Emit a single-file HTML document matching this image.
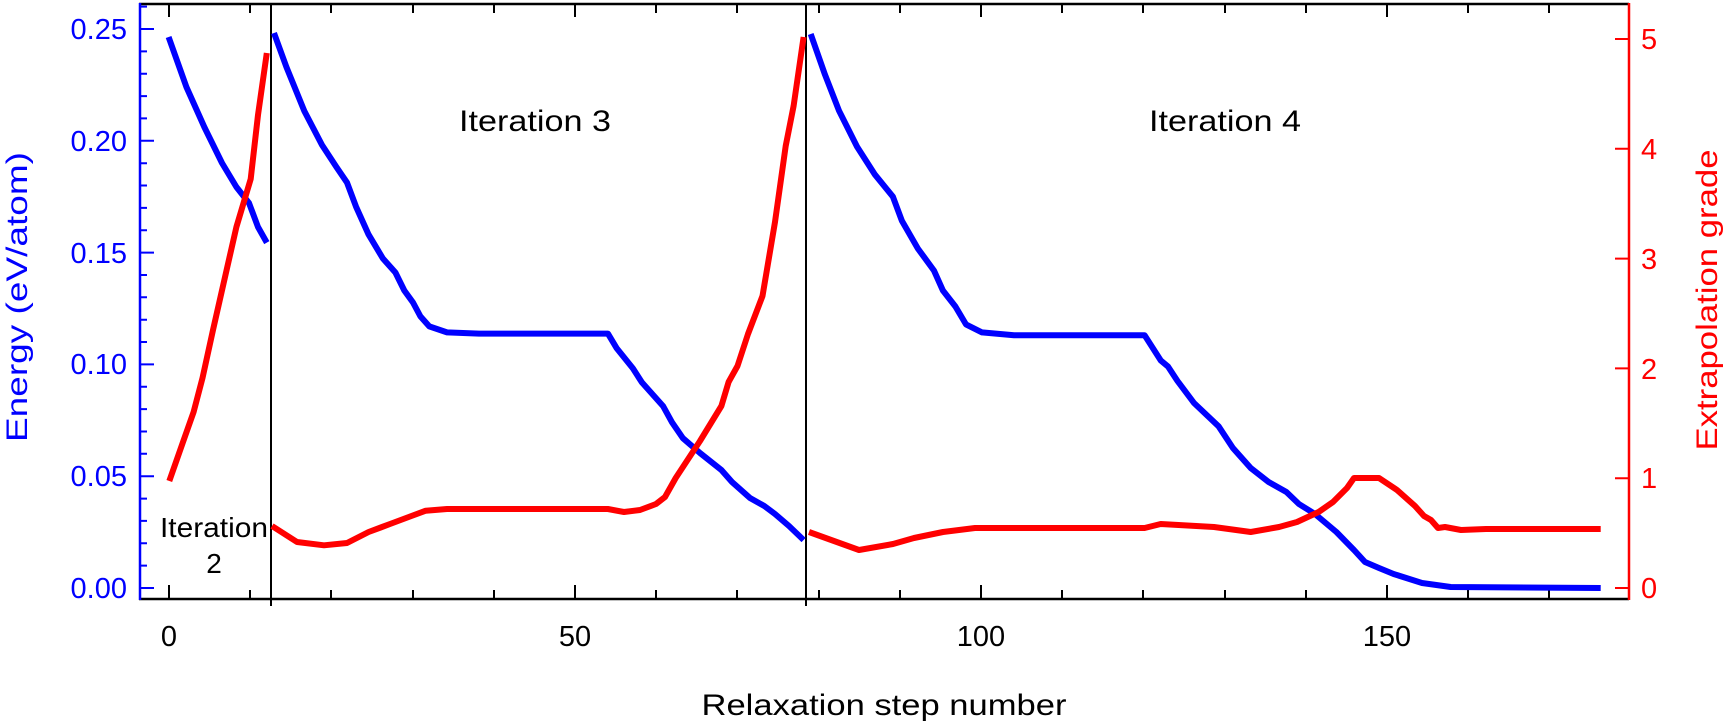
<!DOCTYPE html>
<html><head><meta charset="utf-8"><style>
html,body{margin:0;padding:0;background:#fff;}
svg{display:block;font-family:"Liberation Sans",Arial,sans-serif;}
</style></head><body>
<svg width="1725" height="722" viewBox="0 0 1725 722" xmlns="http://www.w3.org/2000/svg">
<rect width="1725" height="722" fill="#fff"/>
<!-- frame -->
<line x1="139" y1="4" x2="1629" y2="4" stroke="#000" stroke-width="2.5"/>
<line x1="139" y1="599" x2="1629" y2="599" stroke="#000" stroke-width="2.5"/>
<line x1="140" y1="3" x2="140" y2="600" stroke="#0000ff" stroke-width="2.5"/>
<line x1="1629" y1="3" x2="1629" y2="600" stroke="#ff0000" stroke-width="2.5"/>
<!-- iteration separators -->
<line x1="271" y1="4" x2="271" y2="606" stroke="#000" stroke-width="2"/>
<line x1="806" y1="4" x2="806" y2="606" stroke="#000" stroke-width="2"/>
<!-- x ticks -->
<g stroke="#000" stroke-width="2">
<path d="M169,599v-14M575,599v-14M981,599v-14M1387,599v-14
M169,4v13M575,4v13M981,4v13M1387,4v13
M250,599v-9M331,599v-9M413,599v-9M494,599v-9M656,599v-9M737,599v-9M819,599v-9M900,599v-9M1062,599v-9M1143,599v-9M1225,599v-9M1306,599v-9M1468,599v-9M1549,599v-9
M250,4v9M331,4v9M413,4v9M494,4v9M656,4v9M737,4v9M819,4v9M900,4v9M1062,4v9M1143,4v9M1225,4v9M1306,4v9M1468,4v9M1549,4v9"/>
</g>
<!-- left blue ticks -->
<g stroke="#0000ff" stroke-width="2">
<path d="M140,588h14M140,476.2h14M140,364.4h14M140,252.6h14M140,140.8h14M140,29h14
M140,565.6h7M140,543.3h7M140,520.9h7M140,498.6h7
M140,453.8h7M140,431.5h7M140,409.1h7M140,386.8h7
M140,342h7M140,319.7h7M140,297.3h7M140,275h7
M140,230.2h7M140,207.9h7M140,185.5h7M140,163.2h7
M140,118.4h7M140,96.1h7M140,73.7h7M140,51.4h7
M140,6.6h7"/>
</g>
<!-- right red ticks -->
<g stroke="#ff0000" stroke-width="2">
<path d="M1629,588h-14M1629,478.2h-14M1629,368.4h-14M1629,258.6h-14M1629,148.8h-14M1629,39h-14"/>
</g>
<!-- tick labels -->
<g font-size="29" fill="#0000ff" text-anchor="end">
<text x="127" y="598">0.00</text>
<text x="127" y="486">0.05</text>
<text x="127" y="374">0.10</text>
<text x="127" y="263">0.15</text>
<text x="127" y="151">0.20</text>
<text x="127" y="39">0.25</text>
</g>
<g font-size="29" fill="#ff0000">
<text x="1641" y="598">0</text>
<text x="1641" y="488">1</text>
<text x="1641" y="379">2</text>
<text x="1641" y="269">3</text>
<text x="1641" y="159">4</text>
<text x="1641" y="49">5</text>
</g>
<g font-size="29" fill="#000" text-anchor="middle">
<text x="169" y="646">0</text>
<text x="575" y="646">50</text>
<text x="981" y="646">100</text>
<text x="1387" y="646">150</text>
</g>
<!-- axis titles -->
<text x="884" y="715" font-size="30" text-anchor="middle" fill="#000" textLength="365" lengthAdjust="spacingAndGlyphs">Relaxation step number</text>
<text transform="translate(27,297) rotate(-90)" font-size="30" text-anchor="middle" fill="#0000ff" textLength="290" lengthAdjust="spacingAndGlyphs">Energy (eV/atom)</text>
<text transform="translate(1717,300) rotate(-90)" font-size="30" text-anchor="middle" fill="#ff0000" textLength="301" lengthAdjust="spacingAndGlyphs">Extrapolation grade</text>
<!-- annotations -->
<text x="535" y="131" font-size="30" text-anchor="middle" fill="#000" textLength="152" lengthAdjust="spacingAndGlyphs">Iteration 3</text>
<text x="1225" y="131" font-size="30" text-anchor="middle" fill="#000" textLength="152" lengthAdjust="spacingAndGlyphs">Iteration 4</text>
<text x="214" y="537" font-size="28" text-anchor="middle" fill="#000" textLength="108" lengthAdjust="spacingAndGlyphs">Iteration</text>
<text x="214" y="573" font-size="28" text-anchor="middle" fill="#000">2</text>
<!-- blue energy -->
<g fill="none" stroke="#0000ff" stroke-width="6" stroke-linejoin="round">
<polyline points="168.6,37 186.4,87 204.3,127 222,163 236.4,187 249,203 258,227 266.8,242.6"/>
<polyline points="274,33 286.4,67 304.3,111 322,145 336.4,167 347,182.6 356,206.6 368.6,234.6 382.9,258.5 395.4,272.5 404.3,290.5 413,302.5 420.4,316.4 429.3,326.4 447,332.4 479,333.6 607.9,333.6 616.8,348.4 632.9,368.4 641.8,382.3 663.2,406.3 672,422.3 682.9,438.2 700,453 721.4,470 732,482 750,498 764.3,506 775,514 789,526 803.6,540"/>
<polyline points="810.7,34 825,74.7 839,110.7 857,146.6 875,174.7 892.9,196.7 901.8,220.6 917.9,248.6 934,270.6 942.9,290.5 955.4,306.5 966,324.4 982,332.4 1014,335.2 1144.6,335.2 1160.7,360.4 1167.9,366.4 1177.5,381 1194,403 1218.6,426.3 1232.9,448 1250.7,468 1268.6,482 1286.4,492 1298.9,504 1315,514 1336.4,532 1354,550 1365,562 1379,568 1393.6,574 1422,583 1450.7,587 1600.7,588"/>
</g>
<!-- red grade -->
<g fill="none" stroke="#ff0000" stroke-width="6" stroke-linejoin="round">
<polyline points="169.3,481 183,442 193.6,412 202.5,378 213,330 225.7,274 236.4,227 250.7,179 258,115 266.8,53"/>
<polyline points="272,526 297,542 324,545.3 347,543 368.6,532 390,524 411.4,516 425.7,510.7 447,509 607.9,509 624,512 640,510 656,504 665,497 675.7,478 700,441 721.4,406 728.6,382 737.5,366 748,334 762.5,296 775,222 785.7,146 793.6,106 803.6,37"/>
<polyline points="809,532 859,550 893,544 914,538 943,532 975,528 1144.6,528 1160.7,524 1214,527 1250.7,532 1279,527 1297,522 1318.6,512 1333,502 1347,488 1354,478 1379,478 1397,490 1415,506 1424,516 1431,520 1438,528 1445,527 1461,530 1486,529 1600.7,529"/>
</g>
</svg>
</body></html>
